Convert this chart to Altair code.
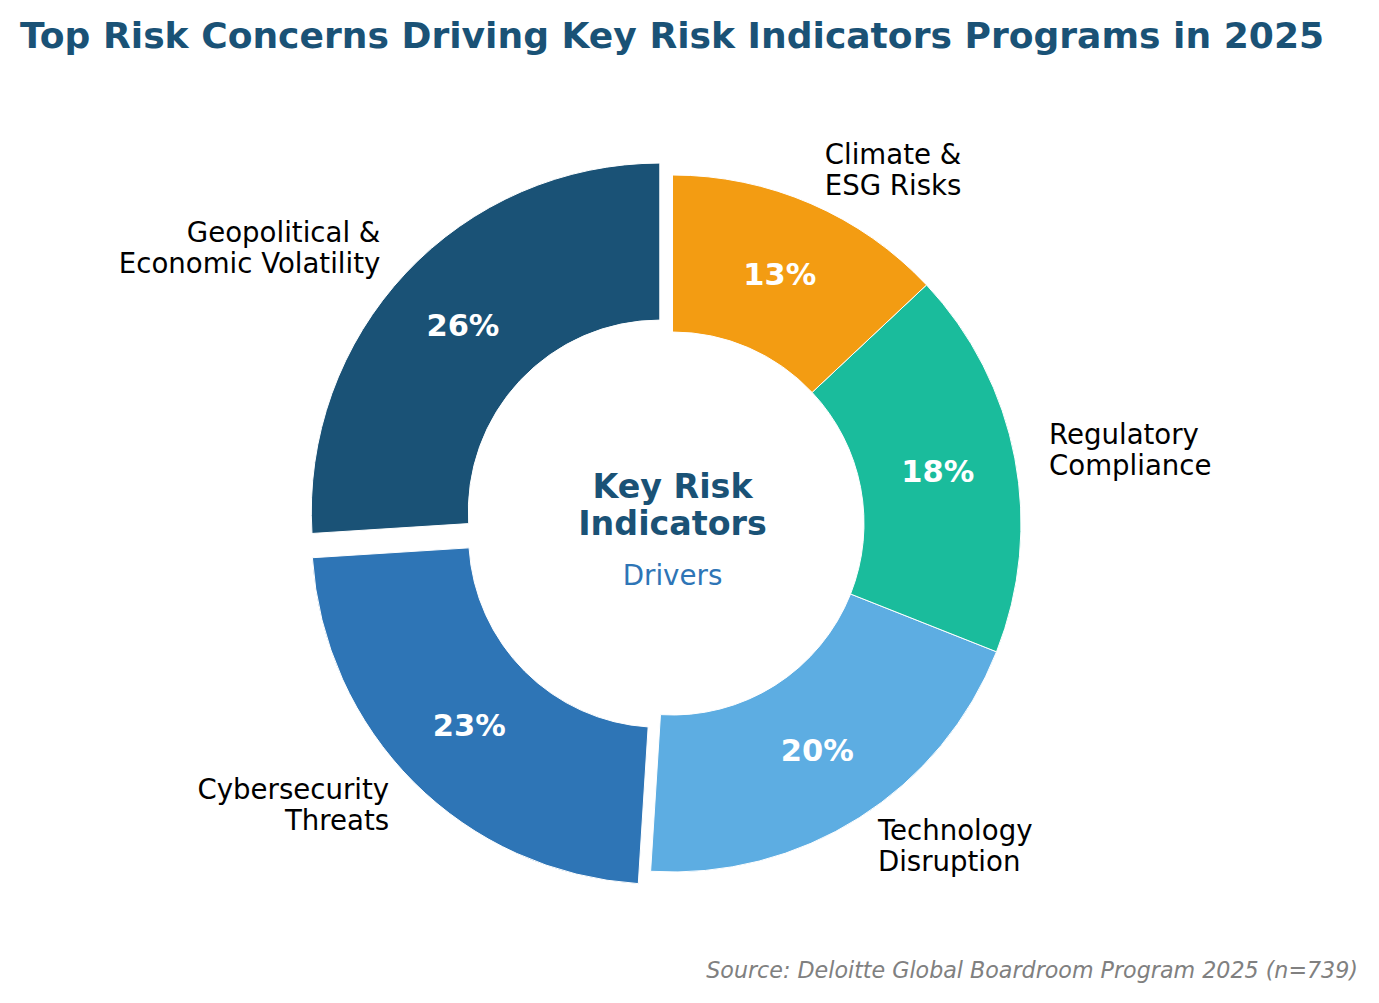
import math

import altair as alt
import pandas as pd

# Survey shares (percent of respondents) by risk concern
categories = [
    "Geopolitical &\nEconomic Volatility",
    "Cybersecurity\nThreats",
    "Technology\nDisruption",
    "Regulatory\nCompliance",
    "Climate &\nESG Risks",
]
shares = [26, 23, 20, 18, 13]
explode = [0.05, 0.05, 0.0, 0.0, 0.0]
colors = ["#1a5276", "#2e75b6", "#5dade2", "#1abc9c", "#f39c12"]

center_title = "Key Risk\nIndicators"
center_sub = "Drivers"
title_text = "Top Risk Concerns Driving Key Risk Indicators Programs in 2025"
source_text = "Source: Deloitte Global Boardroom Program 2025 (n=739)"

# Canvas geometry (pixels)
W, H, TOP = 1379, 928, 75
CX, CY = 672.5, 448.5          # donut centre inside the plot area
OUTER, INNER = 348.5, 191.5    # ring radii
PCT_R = 0.775 * OUTER          # radius of the percentage labels
LABEL_R = 1.1 * OUTER          # radius of the category labels
FONT = "DejaVu Sans"
LABEL_LH = 31

# Slices run counter-clockwise from 12 o'clock; Vega measures clockwise,
# so each wedge ends where the previous one started.
total = sum(shares)
rows = []
before = 0.0
for name, value, ex in zip(categories, shares, explode):
    end = 100 - before / total * 100
    start = end - value / total * 100
    before += value
    mid = (start + end) / 2
    ang = mid / 100 * 2 * math.pi
    rows.append(
        dict(
            category=name,
            share=value,
            start=start,
            end=end,
            mid=mid,
            ox=ex * OUTER * math.sin(ang),
            oy=ex * OUTER * math.cos(ang),
            pct=f"{value}%",
            side="right" if math.sin(ang) > 0 else "left",
        )
    )
df = pd.DataFrame(rows)

theta_scale = alt.Scale(domain=[0, 100], range=[0, 2 * math.pi])
x_enc = alt.X("ox:Q", scale=alt.Scale(domain=[-CX, W - CX], nice=False, zero=False), axis=None)
y_enc = alt.Y("oy:Q", scale=alt.Scale(domain=[CY - H, CY], nice=False, zero=False), axis=None)

base = alt.Chart(df)

wedges = base.mark_arc(
    radius=OUTER, radius2=INNER, stroke="white", strokeWidth=1
).encode(
    theta=alt.Theta("start:Q", scale=theta_scale),
    theta2="end:Q",
    x=x_enc,
    y=y_enc,
    color=alt.Color("category:N", scale=alt.Scale(domain=categories, range=colors), legend=None),
)

pct_labels = base.mark_text(
    radius=PCT_R, font=FONT, fontSize=30.5, fontWeight="bold", color="white", baseline="middle"
).encode(
    theta=alt.Theta("mid:Q", scale=theta_scale),
    x=x_enc,
    y=y_enc,
    text="pct:N",
)


def side_labels(side, align):
    # two-line labels, block centred on the label anchor
    return base.transform_filter(alt.datum.side == side).mark_text(
        radius=LABEL_R,
        font=FONT,
        fontSize=27.6,
        color="black",
        align=align,
        baseline="middle",
        lineBreak="\n",
        lineHeight=LABEL_LH,
        dy=-LABEL_LH / 2,
    ).encode(
        theta=alt.Theta("mid:Q", scale=theta_scale),
        x=x_enc,
        y=y_enc,
        text="category:N",
    )


left_labels = side_labels("left", "right")
right_labels = side_labels("right", "left")

center_big = alt.Chart(pd.DataFrame({"t": [center_title]})).mark_text(
    font=FONT, fontSize=33.3, fontWeight="bold", color="#1a5276",
    baseline="middle", lineBreak="\n", lineHeight=37,
).encode(x=alt.datum(0), y=alt.datum(35.5), text="t:N")

center_small = alt.Chart(pd.DataFrame({"t": [center_sub]})).mark_text(
    font=FONT, fontSize=27.7, color="#2e75b6", baseline="middle",
).encode(x=alt.datum(0), y=alt.datum(-53), text="t:N")

source = alt.Chart(pd.DataFrame({"t": [source_text]})).mark_text(
    font=FONT, fontSize=22.2, fontStyle="italic", color="#808080",
    align="right", baseline="alphabetic",
).encode(x=alt.value(1358), y=alt.value(978 - TOP), text="t:N")

chart = alt.layer(
    wedges, pct_labels, left_labels, right_labels, center_big, center_small, source
).properties(
    width=W,
    height=H,
    padding={"left": 0, "right": 0, "top": TOP, "bottom": 0},
    autosize=alt.AutoSizeParams(type="none"),
    title=alt.TitleParams(
        title_text,
        anchor="start",
        font=FONT,
        fontSize=36.1,
        fontWeight="bold",
        color="#1a5276",
        dx=20,
        offset=-9,
        baseline="alphabetic",
    ),
).configure_view(stroke=None)

chart.save("out.html", embed_options={"renderer": "svg", "actions": False})
